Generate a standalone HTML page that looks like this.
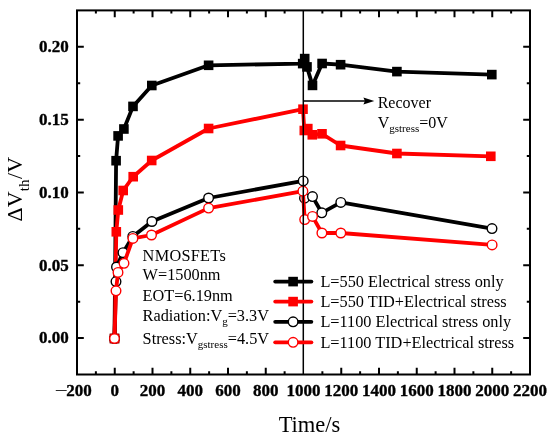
<!DOCTYPE html>
<html><head><meta charset="utf-8"><title>Vth shift</title>
<style>html,body{margin:0;padding:0;background:#fff;width:550px;height:440px;overflow:hidden}svg{display:block}svg text{font-family:"Liberation Serif","Times New Roman",serif}</style>
</head><body>
<svg width="550" height="440" viewBox="0 0 550 440"><rect x="77.0" y="10.4" width="453.0" height="364.1" fill="none" stroke="#000" stroke-width="2"/>
<path d="M95.88,374.5 v-3.2 M95.88,10.4 v3.2 M114.75,374.5 v-6.8 M114.75,10.4 v6.8 M133.62,374.5 v-3.2 M133.62,10.4 v3.2 M152.50,374.5 v-6.8 M152.50,10.4 v6.8 M171.38,374.5 v-3.2 M171.38,10.4 v3.2 M190.25,374.5 v-6.8 M190.25,10.4 v6.8 M209.12,374.5 v-3.2 M209.12,10.4 v3.2 M228.00,374.5 v-6.8 M228.00,10.4 v6.8 M246.88,374.5 v-3.2 M246.88,10.4 v3.2 M265.75,374.5 v-6.8 M265.75,10.4 v6.8 M284.62,374.5 v-3.2 M284.62,10.4 v3.2 M322.38,374.5 v-3.2 M322.38,10.4 v3.2 M341.25,374.5 v-6.8 M341.25,10.4 v6.8 M360.12,374.5 v-3.2 M360.12,10.4 v3.2 M379.00,374.5 v-6.8 M379.00,10.4 v6.8 M397.88,374.5 v-3.2 M397.88,10.4 v3.2 M416.75,374.5 v-6.8 M416.75,10.4 v6.8 M435.62,374.5 v-3.2 M435.62,10.4 v3.2 M454.50,374.5 v-6.8 M454.50,10.4 v6.8 M473.38,374.5 v-3.2 M473.38,10.4 v3.2 M492.25,374.5 v-6.8 M492.25,10.4 v6.8 M511.12,374.5 v-3.2 M511.12,10.4 v3.2 M77.0,338.09 h6.8 M530.0,338.09 h-6.8 M77.0,301.68 h3.2 M530.0,301.68 h-3.2 M77.0,265.27 h6.8 M530.0,265.27 h-6.8 M77.0,228.86 h3.2 M530.0,228.86 h-3.2 M77.0,192.45 h6.8 M530.0,192.45 h-6.8 M77.0,156.04 h3.2 M530.0,156.04 h-3.2 M77.0,119.63 h6.8 M530.0,119.63 h-6.8 M77.0,83.22 h3.2 M530.0,83.22 h-3.2 M77.0,46.81 h6.8 M530.0,46.81 h-6.8" stroke="#000" stroke-width="2" fill="none"/>
<g font-weight="bold" font-size="17" fill="#000" stroke="#000" stroke-width="0.35"><text x="114.8" y="396.3" text-anchor="middle">0</text><text x="152.5" y="396.3" text-anchor="middle">200</text><text x="190.2" y="396.3" text-anchor="middle">400</text><text x="228.0" y="396.3" text-anchor="middle">600</text><text x="265.8" y="396.3" text-anchor="middle">800</text><text x="303.5" y="396.3" text-anchor="middle">1000</text><text x="341.2" y="396.3" text-anchor="middle">1200</text><text x="379.0" y="396.3" text-anchor="middle">1400</text><text x="416.8" y="396.3" text-anchor="middle">1600</text><text x="454.5" y="396.3" text-anchor="middle">1800</text><text x="492.2" y="396.3" text-anchor="middle">2000</text><text x="530.0" y="396.3" text-anchor="middle">2200</text><text x="66.3" y="396.3" text-anchor="start">200</text><text transform="translate(54.6,396.3) scale(1.38,1)" font-weight="normal" stroke="none">−</text><text x="68.8" y="343.3" text-anchor="end">0.00</text><text x="68.8" y="270.5" text-anchor="end">0.05</text><text x="68.8" y="197.6" text-anchor="end">0.10</text><text x="68.8" y="124.8" text-anchor="end">0.15</text><text x="68.8" y="52.0" text-anchor="end">0.20</text></g>
<text x="309.5" y="432.4" text-anchor="middle" font-size="22.5">Time/s</text>
<text transform="translate(22.0,221.5) rotate(-90)" font-size="22">ΔV<tspan font-size="15" dy="6.6" dx="0.3">th</tspan><tspan dy="-6.6" dx="0.6">/V</tspan></text>
<polyline points="114.5,338.5 116.1,160.7 118.1,135.9 123.9,129.0 133.0,106.4 151.8,85.5 208.6,65.3 302.7,63.6 304.7,58.6 307.0,66.9 312.5,85.4 322.1,63.5 340.6,64.7 396.9,71.6 491.8,74.6" fill="none" stroke="#000" stroke-width="3.8" stroke-linejoin="round" stroke-linecap="round"/>
<rect x="109.7" y="333.7" width="9.6" height="9.6" fill="#000"/><rect x="111.3" y="155.9" width="9.6" height="9.6" fill="#000"/><rect x="113.3" y="131.1" width="9.6" height="9.6" fill="#000"/><rect x="119.1" y="124.2" width="9.6" height="9.6" fill="#000"/><rect x="128.2" y="101.6" width="9.6" height="9.6" fill="#000"/><rect x="147.0" y="80.7" width="9.6" height="9.6" fill="#000"/><rect x="203.8" y="60.5" width="9.6" height="9.6" fill="#000"/><rect x="297.9" y="58.8" width="9.6" height="9.6" fill="#000"/><rect x="299.9" y="53.8" width="9.6" height="9.6" fill="#000"/><rect x="302.2" y="62.1" width="9.6" height="9.6" fill="#000"/><rect x="307.7" y="80.6" width="9.6" height="9.6" fill="#000"/><rect x="317.3" y="58.7" width="9.6" height="9.6" fill="#000"/><rect x="335.8" y="59.9" width="9.6" height="9.6" fill="#000"/><rect x="392.1" y="66.8" width="9.6" height="9.6" fill="#000"/><rect x="487.0" y="69.8" width="9.6" height="9.6" fill="#000"/>
<polyline points="114.5,338.5 116.3,231.8 118.3,210.0 123.2,190.5 133.2,176.7 151.7,160.5 208.6,128.5 303.0,109.2 304.3,130.5 307.8,128.6 312.3,134.8 322.0,133.8 340.6,145.5 396.9,153.5 490.8,156.3" fill="none" stroke="#ff0000" stroke-width="3.8" stroke-linejoin="round" stroke-linecap="round"/>
<rect x="109.7" y="333.7" width="9.6" height="9.6" fill="#ff0000"/><rect x="111.5" y="227.0" width="9.6" height="9.6" fill="#ff0000"/><rect x="113.5" y="205.2" width="9.6" height="9.6" fill="#ff0000"/><rect x="118.4" y="185.7" width="9.6" height="9.6" fill="#ff0000"/><rect x="128.4" y="171.9" width="9.6" height="9.6" fill="#ff0000"/><rect x="146.9" y="155.7" width="9.6" height="9.6" fill="#ff0000"/><rect x="203.8" y="123.7" width="9.6" height="9.6" fill="#ff0000"/><rect x="298.2" y="104.4" width="9.6" height="9.6" fill="#ff0000"/><rect x="299.5" y="125.7" width="9.6" height="9.6" fill="#ff0000"/><rect x="303.0" y="123.8" width="9.6" height="9.6" fill="#ff0000"/><rect x="307.5" y="130.0" width="9.6" height="9.6" fill="#ff0000"/><rect x="317.2" y="129.0" width="9.6" height="9.6" fill="#ff0000"/><rect x="335.8" y="140.7" width="9.6" height="9.6" fill="#ff0000"/><rect x="392.1" y="148.7" width="9.6" height="9.6" fill="#ff0000"/><rect x="486.0" y="151.5" width="9.6" height="9.6" fill="#ff0000"/>
<polyline points="114.5,338.5 116.0,281.6 116.5,267.0 123.0,252.7 132.8,236.4 151.9,221.5 208.6,198.0 303.2,180.9 304.5,198.2 312.5,196.6 321.8,212.8 340.8,202.4 492.0,228.6" fill="none" stroke="#000" stroke-width="3.8" stroke-linejoin="round" stroke-linecap="round"/>
<circle cx="114.5" cy="338.5" r="4.8" fill="#fff" stroke="#000" stroke-width="1.4"/><circle cx="116.0" cy="281.6" r="4.8" fill="#fff" stroke="#000" stroke-width="1.4"/><circle cx="116.5" cy="267.0" r="4.8" fill="#fff" stroke="#000" stroke-width="1.4"/><circle cx="123.0" cy="252.7" r="4.8" fill="#fff" stroke="#000" stroke-width="1.4"/><circle cx="132.8" cy="236.4" r="4.8" fill="#fff" stroke="#000" stroke-width="1.4"/><circle cx="151.9" cy="221.5" r="4.8" fill="#fff" stroke="#000" stroke-width="1.4"/><circle cx="208.6" cy="198.0" r="4.8" fill="#fff" stroke="#000" stroke-width="1.4"/><circle cx="303.2" cy="180.9" r="4.8" fill="#fff" stroke="#000" stroke-width="1.4"/><circle cx="304.5" cy="198.2" r="4.8" fill="#fff" stroke="#000" stroke-width="1.4"/><circle cx="312.5" cy="196.6" r="4.8" fill="#fff" stroke="#000" stroke-width="1.4"/><circle cx="321.8" cy="212.8" r="4.8" fill="#fff" stroke="#000" stroke-width="1.4"/><circle cx="340.8" cy="202.4" r="4.8" fill="#fff" stroke="#000" stroke-width="1.4"/><circle cx="492.0" cy="228.6" r="4.8" fill="#fff" stroke="#000" stroke-width="1.4"/>
<polyline points="114.5,338.5 116.0,290.8 118.0,272.4 124.0,263.3 132.9,238.4 151.5,235.0 208.6,208.1 302.9,191.2 304.7,219.6 312.5,216.4 321.9,233.0 340.8,233.0 492.1,244.9" fill="none" stroke="#ff0000" stroke-width="3.8" stroke-linejoin="round" stroke-linecap="round"/>
<circle cx="114.5" cy="338.5" r="4.8" fill="#fff" stroke="#ff0000" stroke-width="1.4"/><circle cx="116.0" cy="290.8" r="4.8" fill="#fff" stroke="#ff0000" stroke-width="1.4"/><circle cx="118.0" cy="272.4" r="4.8" fill="#fff" stroke="#ff0000" stroke-width="1.4"/><circle cx="124.0" cy="263.3" r="4.8" fill="#fff" stroke="#ff0000" stroke-width="1.4"/><circle cx="132.9" cy="238.4" r="4.8" fill="#fff" stroke="#ff0000" stroke-width="1.4"/><circle cx="151.5" cy="235.0" r="4.8" fill="#fff" stroke="#ff0000" stroke-width="1.4"/><circle cx="208.6" cy="208.1" r="4.8" fill="#fff" stroke="#ff0000" stroke-width="1.4"/><circle cx="302.9" cy="191.2" r="4.8" fill="#fff" stroke="#ff0000" stroke-width="1.4"/><circle cx="304.7" cy="219.6" r="4.8" fill="#fff" stroke="#ff0000" stroke-width="1.4"/><circle cx="312.5" cy="216.4" r="4.8" fill="#fff" stroke="#ff0000" stroke-width="1.4"/><circle cx="321.9" cy="233.0" r="4.8" fill="#fff" stroke="#ff0000" stroke-width="1.4"/><circle cx="340.8" cy="233.0" r="4.8" fill="#fff" stroke="#ff0000" stroke-width="1.4"/><circle cx="492.1" cy="244.9" r="4.8" fill="#fff" stroke="#ff0000" stroke-width="1.4"/>
<line x1="303.3" y1="10.4" x2="303.3" y2="374.5" stroke="#000" stroke-width="1.5"/>
<line x1="303.3" y1="101" x2="366" y2="101" stroke="#000" stroke-width="1.5"/>
<path d="M374.3,101 L363.4,97.6 L364.9,101 L363.4,104.4 Z" fill="#000"/>
<text x="377.7" y="108.2" font-size="16">Recover</text>
<text x="377.7" y="128" font-size="16">V<tspan font-size="11" dy="4.3">gstress</tspan><tspan dy="-4.3">=0V</tspan></text>
<g font-size="16.3" fill="#000"><text x="142.6" y="261.0" letter-spacing="0.28">NMOSFETs</text><text x="142.6" y="280.2">W=1500nm</text><text x="142.6" y="301.0">EOT=6.19nm</text><text x="142.6" y="321.1">Radiation:V<tspan font-size="11" dy="4.3">g</tspan><tspan dy="-4.3">=3.3V</tspan></text><text x="142.6" y="343.9">Stress:V<tspan font-size="11" dy="4.3">gstress</tspan><tspan dy="-4.3">=4.5V</tspan></text></g>
<line x1="275.2" y1="281.6" x2="311.4" y2="281.6" stroke="#000" stroke-width="3.8" stroke-linecap="round"/><rect x="288.3" y="276.8" width="9.6" height="9.6" fill="#000"/><text x="320.4" y="287.1" font-size="16.3">L=550 Electrical stress only</text><line x1="275.2" y1="301.6" x2="311.4" y2="301.6" stroke="#ff0000" stroke-width="3.8" stroke-linecap="round"/><rect x="288.3" y="296.8" width="9.6" height="9.6" fill="#ff0000"/><text x="320.4" y="307.1" font-size="16.3">L=550 TID+Electrical stress</text><line x1="275.2" y1="321.8" x2="311.4" y2="321.8" stroke="#000" stroke-width="3.8" stroke-linecap="round"/><circle cx="293.1" cy="321.8" r="4.8" fill="#fff" stroke="#000" stroke-width="1.4"/><text x="320.4" y="327.2" font-size="16.3">L=1100 Electrical stress only</text><line x1="275.2" y1="342.3" x2="311.4" y2="342.3" stroke="#ff0000" stroke-width="3.8" stroke-linecap="round"/><circle cx="293.1" cy="342.3" r="4.8" fill="#fff" stroke="#ff0000" stroke-width="1.4"/><text x="320.4" y="347.6" font-size="16.3">L=1100 TID+Electrical stress</text></svg>
</body></html>
